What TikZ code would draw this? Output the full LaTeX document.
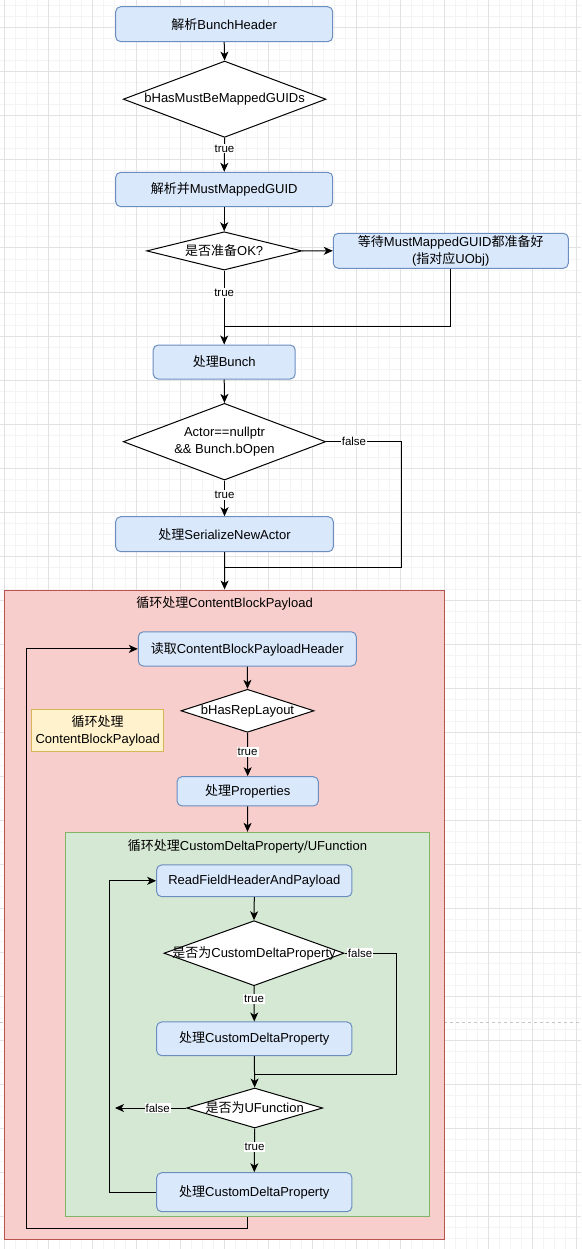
\documentclass[tikz,border=0pt]{standalone}
\usepackage{fontspec}
\setmainfont{Liberation Sans}
\newfontfamily\cjk{Noto Sans CJK SC}
\usepackage{xcolor}
\usepackage{tikz}
\usetikzlibrary{arrows.meta,shapes.geometric}
\definecolor{procfill}{HTML}{DAE8FC}
\definecolor{procline}{HTML}{6C8EBF}
\definecolor{redfill}{HTML}{F8CECC}
\definecolor{redline}{HTML}{B85450}
\definecolor{greenfill}{HTML}{D5E8D4}
\definecolor{greenline}{HTML}{82B366}
\definecolor{notefill}{HTML}{FFF2CC}
\definecolor{noteline}{HTML}{D6B656}
\definecolor{gridminor}{HTML}{F4F4F4}
\definecolor{gridmajor}{HTML}{E2E2E2}
\newcommand{\zh}[1]{{\cjk #1}}
\tikzset{
    Proc/.style 2 args = {draw=procline,fill=procfill,rounded corners=5pt,
         minimum width=#1,minimum height=#2,inner sep=0pt,align=center},
    Cond/.style 2 args = {diamond,draw,fill=white,inner sep=0pt,
         minimum width=#1,minimum height=#2},
    Group/.style 2 args = {draw=#2,fill=#1,inner sep=0pt},
    Note/.style = {draw=noteline,fill=notefill,inner sep=0pt,align=center},
    Flow/.style = {-{Stealth[length=9pt,width=8pt,inset=2.5pt]}},
    Tag/.style = {fill=white,inner sep=1pt,font=\fontsize{11.5}{13}\selectfont}
}

\begin{document}
\begin{tikzpicture}[x=1pt,y=-1pt,line width=1pt,font=\fontsize{13}{16.5}\selectfont]
        % grid
        \fill[white] (0,0) rectangle (581,1249);
        \useasboundingbox (0,0) rectangle (581,1249);
        \foreach \x in {4,15,...,581}
            {\draw[gridminor] (\x,0) -- (\x,1249);}
        \foreach \y in {6,17,...,1249}
            {\draw[gridminor] (0,\y) -- (581,\y);}
        \foreach \x in {4,48,...,581}
            {\draw[gridmajor] (\x,0) -- (\x,1249);}
        \foreach \y in {28,72,...,1249}
            {\draw[gridmajor] (0,\y) -- (581,\y);}
        \draw[gray!45,dash pattern=on 3pt off 3pt] (0,1022) -- (581,1022);
        % loops
        \node[Group={redfill}{redline},minimum width=440.7pt,minimum height=649pt] (loopA) at (224.6,914.5) {};
        \node at ([yshift=-14pt]loopA.north) {\zh{循环处理}ContentBlockPayload};
        \node[Note,minimum width=132pt,minimum height=41.7pt] (note) at (97.7,730.8) {\zh{循环处理}\\ContentBlockPayload};
        \node[Group={greenfill}{greenline},minimum width=363.6pt,minimum height=384.4pt] (loopB) at (247.5,1024.5) {};
        \node at ([yshift=-14.5pt]loopB.north) {\zh{循环处理}CustomDeltaProperty/UFunction};
        % steps
        \node[Proc={217pt}{35pt}] (hdr) at (224.2,24.2) {\zh{解析}BunchHeader};
        \node[Cond={202.7pt}{76.3pt}] (chk) at (224.6,99.2) {\makebox[0pt]{bHasMustBeMappedGUIDs}};
        \node[Proc={217pt}{34.4pt}] (guid) at (224.2,189.5) {\zh{解析并}MustMappedGUID};
        \node[Cond={155pt}{38.3pt}] (ready) at (224.2,250.9) {\makebox[0pt]{\zh{是否准备}OK?}};
        \node[Proc={235pt}{35pt}] (wait) at (450.8,250.8) {\zh{等待}MustMappedGUID\zh{都准备好}\\(\zh{指对应}UObj)};
        \node[Proc={142pt}{34pt}] (bunch) at (224.2,362) {\zh{处理}Bunch};
        \node[Cond={202.4pt}{76.7pt}] (actor) at (224.5,441.7) {\makebox[0pt]{\begin{tabular}{@{}c@{}}Actor==nullptr\\\&\& Bunch.bOpen\end{tabular}}};
        \node[Proc={217.6pt}{35pt}] (newact) at (224.5,534.2) {\zh{处理}SerializeNewActor};
        \node[Proc={218pt}{34.3pt}] (hdrB) at (247.3,648.9) {\zh{读取}ContentBlockPayloadHeader};
        \node[Cond={133pt}{43pt}] (rep) at (247.5,710.8) {\makebox[0pt]{bHasRepLayout}};
        \node[Proc={141.3pt}{29.3pt}] (props) at (247.7,791.3) {\zh{处理}Properties};
        \node[Proc={195.3pt}{31.7pt}] (field) at (254.3,880.8) {ReadFieldHeaderAndPayload};
        \node[Cond={180pt}{65pt}] (isCDP) at (254,953.2) {\makebox[0pt]{\zh{是否为}CustomDeltaProperty}};
        \node[Proc={195.3pt}{33.7pt}] (cdp) at (254.3,1038.8) {\zh{处理}CustomDeltaProperty};
        \node[Cond={136pt}{40pt}] (isUF) at (254.7,1108) {\makebox[0pt]{\zh{是否为}UFunction}};
        \node[Proc={195.3pt}{39pt}] (cdp2) at (254.3,1192.2) {\zh{处理}CustomDeltaProperty};
        % joins
        \coordinate (joinW) at (224.2,326);
        \coordinate (joinN) at (224.5,567.7);
        \coordinate (joinC) at (254.5,1074);
        \coordinate (ufEnd) at (115,1108);
        % edges
        \draw[Flow] (hdr.south) -- (chk.north);
        \draw[Flow] (chk.south) -- node[Tag,pos=0.32]{true} (guid.north);
        \draw[Flow] (guid.south) -- (ready.north);
        \draw[Flow] (ready.east) -- (wait.west);
        \draw[Flow] (ready.south) -- node[Tag,pos=0.3]{true} (bunch.north);
        \draw (wait.south) |- (joinW);
        \draw[Flow] (bunch.south) -- (actor.north);
        \draw[Flow] (actor.south) -- node[Tag,pos=0.4]{true} (newact.north);
        \draw (actor.east) -- node[Tag,pos=0.37]{false} ++(75,0) |- (joinN);
        \draw[Flow] (newact.south) -- (loopA.north);
        \draw[Flow] (hdrB.south) -- (rep.north);
        \draw[Flow] (rep.south) -- node[Tag,pos=0.44]{true} (props.north);
        \draw[Flow] (props.south) -- (loopB.north);
        \draw[Flow] (field.south) -- (isCDP.north);
        \draw[Flow] (isCDP.south) -- node[Tag,pos=0.37]{true} (cdp.north);
        \draw (isCDP.east) -- node[Tag,pos=0.3]{false} ++(52,0) |- (joinC);
        \draw[Flow] (cdp.south) -- (isUF.north);
        \draw[Flow] (isUF.west) -- node[Tag,pos=0.4]{false} (ufEnd);
        \draw[Flow] (isUF.south) -- node[Tag,pos=0.42]{true} (cdp2.north);
        \draw[Flow] (cdp2.west) -- ++(-46.5,0) |- (field.west);
        \draw[Flow] (loopB.south) -- ++(0,11.5) -- ++(-221.3,0) |- (hdrB.west);
\end{tikzpicture}
\end{document}
